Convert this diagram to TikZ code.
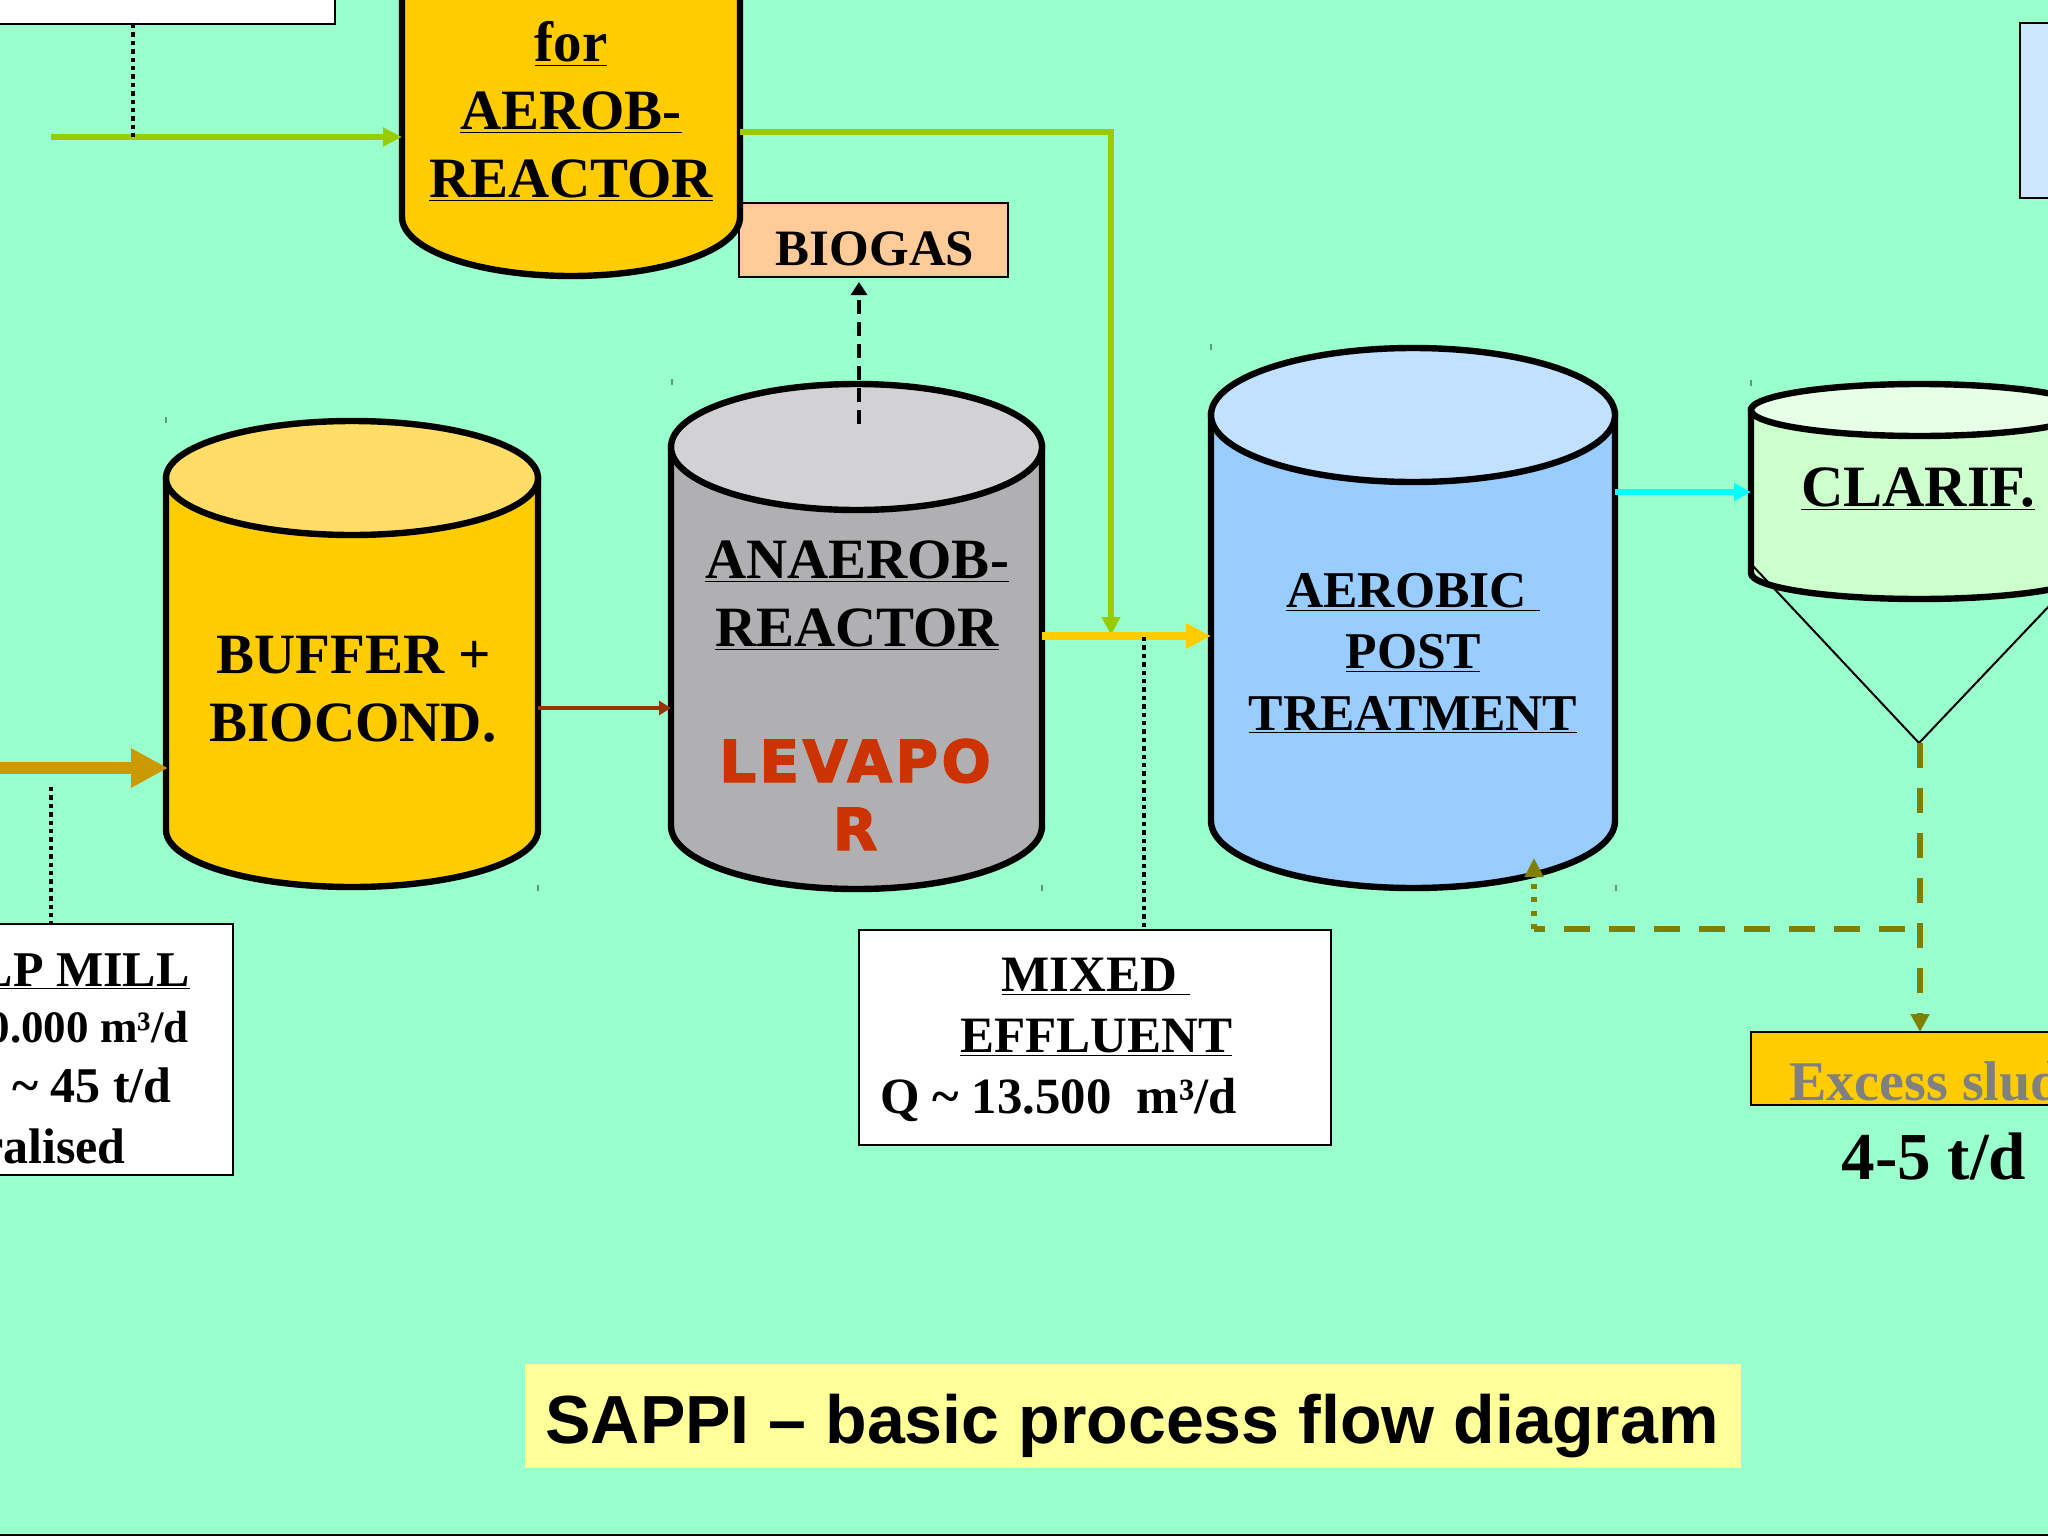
\documentclass[tikz,border=0pt]{standalone}
\usepackage{fontspec}
\setmainfont{Liberation Serif}
\newfontfamily\titlefont{Liberation Sans}
\newfontfamily\brandfont[BoldFeatures={LetterSpace=6,FakeBold=2.5}]{DejaVu Sans}
\usetikzlibrary{arrows.meta,positioning}
\definecolor{bgmint}{HTML}{99FFCC}
\definecolor{tankgold}{HTML}{FFCC00}
\definecolor{tankgoldtop}{HTML}{FFDD66}
\definecolor{tankgrey}{HTML}{B0AFB1}
\definecolor{tankgreytop}{HTML}{D2D1D3}
\definecolor{tankblue}{HTML}{99CCFF}
\definecolor{tankbluetop}{HTML}{C2E0FF}
\definecolor{tankgreen}{HTML}{CCFFCC}
\definecolor{tankgreentop}{HTML}{E6FFE6}
\definecolor{limeflow}{HTML}{99CC00}
\definecolor{olivesludge}{HTML}{808000}
\definecolor{millflow}{HTML}{CC9900}
\definecolor{brownflow}{HTML}{993300}
\definecolor{cyanflow}{HTML}{00FFFF}
\definecolor{brandred}{HTML}{CC3300}
\definecolor{biogaspeach}{HTML}{FFCC99}
\definecolor{titleyellow}{HTML}{FFFF99}
\definecolor{notesky}{HTML}{CCE6FF}
\tikzset{
tankline/.style={draw=black, line width=3.2pt},
infobox/.style={draw=black, line width=1pt, fill=white, outer sep=0pt, inner sep=0pt, anchor=north west},
caption/.style={font=\bfseries\fontsize{#1}{#1}\selectfont, anchor=base, inner sep=0pt},
caption/.default=25,
brandtext/.style={font=\brandfont\bfseries\fontsize{29}{29}\selectfont, text=brandred, anchor=base, inner sep=0pt},
leader/.style={draw=black, line width=2.3pt, dash pattern=on 2.2pt off 2pt},
sludge/.style={draw=olivesludge, line width=3.2pt},
tick/.style={draw=black!40!bgmint, line width=0.6pt},
}
% name, centre x, lid y, side end y, radius x, radius y, body, lid
\newcommand{\tank}[8]{%
  \pgfmathsetmacro{\tankh}{((#4)+(#6)-(#3)+(#6))/2}
  \pgfmathsetmacro{\tankm}{((#4)+(#6)+(#3)-(#6))/2}
  \filldraw[tankline, fill=#7] (#2-#5,#3) -- (#2-#5,#4) arc[start angle=180, end angle=0, x radius=#5, y radius=#6] -- (#2+#5,#3) -- cycle;
  \filldraw[tankline, fill=#8] (#2,#3) ellipse[x radius=#5, y radius=#6];
  \node[minimum width=#5pt, minimum height=\tankh pt, inner sep=0pt, outer sep=0pt] (#1) at (#2,\tankm) {};
}
\begin{document}
\begin{tikzpicture}[x=0.5pt,y=-0.5pt]
\useasboundingbox (0,0) rectangle (2048,1536);
\fill[bgmint] (0,0) rectangle (2048,1536);
\draw[black, line width=1pt] (0,1535) -- (2048,1535);

% boxes cut by the page
\node[infobox, minimum width=435pt, minimum height=40pt, anchor=south east] (intake) at (335,24) {};
\node[infobox, minimum width=60pt, minimum height=87.5pt, line width=1.2pt, fill=notesky] (note) at (2020,23) {};
\node[infobox, minimum width=200pt, minimum height=125.5pt, anchor=north east] (mill) at (233,924) {};
\node[infobox, minimum width=200pt, minimum height=36.5pt, fill=tankgold] (excess) at (1751,1032) {};
\node[infobox, minimum width=236pt, minimum height=107.5pt] (mixed) at (859,930) {};
\node[infobox, minimum width=134.5pt, minimum height=37pt, fill=biogaspeach] (biogas) at (739,203) {};
\node[fill=titleyellow, minimum width=608pt, minimum height=52pt, inner sep=0pt, outer sep=0pt, anchor=north west] (title) at (525,1364) {};

% tanks
\tank{polish}{571}{-100}{217}{169}{59}{tankgold}{tankgold}
\tank{buffer}{352}{478}{830}{186}{57}{tankgold}{tankgoldtop}
\tank{anaerob}{856.5}{447}{826}{185.5}{63}{tankgrey}{tankgreytop}
\tank{aerobic}{1413}{415}{821}{202}{67}{tankblue}{tankbluetop}
\tank{clarif}{1919.5}{410}{573}{168.5}{26}{tankgreen}{tankgreentop}

% cone lies over the clarifier rim
\coordinate (tip) at (1919,743);
\draw[black, line width=1pt] (1752,565) -- (tip) -- (2088,565);

% selection ticks
\foreach \tx/\ty in {166/420,538/888,672/382,1042/888,1211/347,1616/888,1751/383}
  \draw[tick] (\tx,\ty-3) -- (\tx,\ty+3);

% labels in tanks
\node[caption=28.5] (forline) at (571,62) {\underline{for}};
\node[caption=28.5] (aerobline) at (571,129) {\underline{AEROB-}};
\node[caption=28.5] (reactline) at (571,197) {\underline{REACTOR}};
\node[caption=28.5] (bufa) at (354,673) {BUFFER +};
\node[caption=28.5] (bufb) at (353,741) {BIOCOND.};
\node[caption=28.5] (ana) at (857,578) {\underline{ANAEROB-}};
\node[caption=28.5] (anb) at (857,646) {\underline{REACTOR}};
\node[brandtext] (brand) at (855,782) {LEVAPO};
\node[brandtext] (brandb) at (855,850) {R};
\node[caption=25.8] (posta) at (1413,607) {\underline{AEROBIC\ }};
\node[caption=25.8] (postb) at (1413,668) {\underline{POST}};
\node[caption=25.8] (postc) at (1413,730) {\underline{TREATMENT}};
\node[caption=29.3] (clar) at (1918,506) {\underline{CLARIF.}};
\node[caption=25.5] (biogastext) at (875,265) {BIOGAS};

% labels in boxes
\node[caption=25, anchor=base east] (milla) at (190,986) {\underline{LP MILL}};
\node[caption=22.5, anchor=base east] (millb) at (189,1042) {0.000 m³/d};
\node[caption=25, anchor=base east] (millc) at (172,1102) {\textasciitilde{} 45 t/d};
\node[caption=25, anchor=base east] (milld) at (126,1163) {ralised};
\node[caption=25.5] (mixa) at (1096,991) {\underline{MIXED\ }};
\node[caption=25.5] (mixb) at (1096,1052) {\underline{EFFLUENT}};
\node[caption=25.4, anchor=base west] (mixc) at (880,1113) {Q \textasciitilde{} 13.500\ \ m³/d};
\node[caption=28, anchor=base west, text=gray] (exa) at (1789,1100) {Excess slud};
\node[caption=33.6, anchor=base west] (exb) at (1841,1179) {4-5 t/d};
\node[font=\titlefont\bfseries\fontsize{34.05}{34.05}\selectfont, anchor=base west, inner sep=0pt] (titletext) at (545,1443) {SAPPI – basic process flow diagram};

% flows
\coordinate (millstart) at (0,768);
\coordinate (limestart) at (51,137);
\coordinate (limeturn) at (1111,132);
\coordinate (limeend) at (1111,635);
\coordinate (brownref) at (0,708);
\coordinate (yellowref) at (0,636);
\coordinate (cyanref) at (0,492);
\draw[-{Triangle[length=18.5pt,width=18.5pt]}, line width=6.3pt, draw=millflow] (millstart) -- ([xshift=1pt]buffer.west |- millstart);
\draw[-{Triangle[length=9.5pt,width=9pt]}, line width=3.3pt, draw=limeflow] (limestart) -- (polish.west |- limestart);
\draw[-{Triangle[length=9pt,width=9pt]}, line width=3.3pt, draw=limeflow] (polish.east |- limeturn) -- (limeturn) -- (limeend);
\draw[-{Triangle[length=6pt,width=7pt]}, line width=1.8pt, draw=brownflow] (buffer.east |- brownref) -- (anaerob.west |- brownref);
\draw[-{Triangle[length=12.5pt,width=12pt]}, line width=4.2pt, draw=tankgold] (anaerob.east |- yellowref) -- (aerobic.west |- yellowref);
\draw[-{Triangle[length=8.5pt,width=8.5pt]}, line width=2.8pt, draw=cyanflow] (aerobic.east |- cyanref) -- (clarif.west |- cyanref);

% leaders
\coordinate (intakedrop) at (133,137);
\coordinate (milltop) at (51,787);
\coordinate (mixdrop) at (1144,637);
\coordinate (gasstart) at (859,424);
\coordinate (gasend) at (859,282);
\draw[leader] (intake.south -| intakedrop) -- (intakedrop);
\draw[leader] (milltop) -- (mill.north -| milltop);
\draw[leader] (mixdrop) -- (mixed.north -| mixdrop);
\draw[-{Triangle[length=6.5pt,width=8pt]}, line width=2pt, dash pattern=on 7pt off 4pt] (gasstart) -- (gasend);

% sludge return
\coordinate (junction) at (1920,929);
\coordinate (returnbend) at (1534,929);
\coordinate (returnend) at (1534,858);
\draw[sludge, dash pattern=on 12.5pt off 10pt, -{Triangle[length=9pt,width=9pt]}] (tip -| junction) -- (excess.north -| junction);
\draw[sludge, dash pattern=on 13pt off 9.5pt, dash phase=15pt] (junction) -- (returnbend);
\draw[sludge, dash pattern=on 2.6pt off 4.05pt, -{Triangle[length=9.5pt,width=9pt]}] (returnbend) -- (returnend);
\end{tikzpicture}
\end{document}
